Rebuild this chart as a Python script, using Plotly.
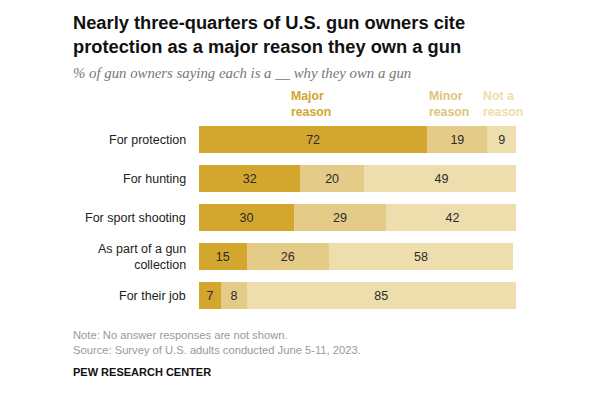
import plotly.graph_objects as go

categories = ["For protection", "For hunting", "For sport shooting",
              "As part of a gun<br>collection", "For their job"]
major = [72, 32, 30, 15, 7]
minor = [19, 20, 29, 26, 8]
not_reason = [9, 49, 42, 58, 85]
series_names = ["Major<br>reason", "Minor<br>reason", "Not a<br>reason"]
colors = ["#D3A62D", "#E4CB87", "#EEDEAE"]

W, H = 600, 395
OFF = 8  # page body margin
L, T = 199 - OFF, 120 - OFF
R = W - (516 - OFF)
B = H - (315.5 - OFF)
pw = W - L - R
ph = H - T - B

fig = go.Figure()
for name, vals, col in zip(series_names, [major, minor, not_reason], colors):
    fig.add_trace(go.Bar(
        y=categories, x=vals, orientation="h", name=name,
        marker=dict(color=col, line=dict(width=0)),
        text=[str(v) for v in vals], textposition="inside",
        insidetextanchor="middle",
        textfont=dict(family="Liberation Sans, Arial, sans-serif", size=12.5, color="#2b2b2b"),
        hoverinfo="skip", showlegend=False,
    ))

def px_x(px):
    return (px - OFF - L) / pw

def px_y(py):
    return 1 - (py - OFF - T) / ph

ann = []
for cat in categories:
    ann.append(dict(xref="paper", yref="y", x=px_x(188), y=cat, text=cat,
                    xanchor="right", yanchor="middle", showarrow=False, align="right",
                    font=dict(family="Liberation Sans, Arial, sans-serif", size=12.5, color="#222")))
leg_x = [289, 427, 481]
for name, col, lx in zip(series_names, ["#D3A62D", "#E0C47A", "#EEDDAA"], leg_x):
    ann.append(dict(xref="paper", yref="paper", x=px_x(lx), y=px_y(87), text="<b>" + name + "</b>",
                    xanchor="left", yanchor="top", showarrow=False, align="left",
                    font=dict(family="Liberation Sans, Arial, sans-serif", size=12.3, color=col)))
ann.append(dict(xref="paper", yref="paper", x=px_x(71), y=px_y(10),
                text="<b>Nearly three-quarters of U.S. gun owners cite<br>protection as a major reason they own a gun</b>",
                xanchor="left", yanchor="top", showarrow=False, align="left",
                font=dict(family="Liberation Sans, Arial, sans-serif", size=18.3, color="#111")))
ann.append(dict(xref="paper", yref="paper", x=px_x(71), y=px_y(63),
                text="<i>% of gun owners saying each is a __ why they own a gun</i>",
                xanchor="left", yanchor="top", showarrow=False, align="left",
                font=dict(family="Liberation Serif, Georgia, serif", size=14.8, color="#777")))
ann.append(dict(xref="paper", yref="paper", x=px_x(71), y=px_y(328),
                text="Note: No answer responses are not shown.<br>Source: Survey of U.S. adults conducted June 5-11, 2023.",
                xanchor="left", yanchor="top", showarrow=False, align="left",
                font=dict(family="Liberation Sans, Arial, sans-serif", size=11.2, color="#999")))
ann.append(dict(xref="paper", yref="paper", x=px_x(71), y=px_y(365),
                text="<b>PEW RESEARCH CENTER</b>",
                xanchor="left", yanchor="top", showarrow=False, align="left",
                font=dict(family="Liberation Sans, Arial, sans-serif", size=11, color="#111")))

fig.update_layout(
    width=W, height=H, barmode="stack", bargap=0.33,
    margin=dict(l=L, r=R, t=T, b=B, pad=0),
    paper_bgcolor="white", plot_bgcolor="white",
    xaxis=dict(range=[0, 100], visible=False, fixedrange=True),
    yaxis=dict(autorange="reversed", visible=False, fixedrange=True),
    annotations=ann,
    uniformtext=dict(minsize=8, mode="show"),
)

fig.write_html("out.html")
